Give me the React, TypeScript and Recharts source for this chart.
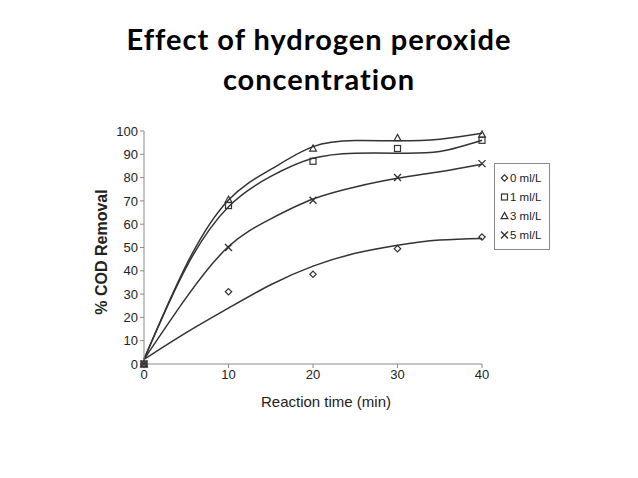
import { ComposedChart, Line, Scatter, XAxis, YAxis } from "recharts";

// measured points (min, % COD removal)
const times = [0, 10, 20, 30, 40];
const removal0 = [0, 31, 38.5, 49.5, 54.5];
const removal1 = [0, 68, 87, 92.5, 96];
const removal3 = [0, 70.5, 92.5, 97, 98.5];
const removal5 = [0, 50, 70.3, 80, 86];

// trend curves
const curveTimes = [0, 5, 10, 15, 20, 25, 30, 35, 40];
const curve0 = [2, 13.5, 24, 34, 42, 47.5, 51, 53.2, 53.9];
const curve1 = [2, 41.5, 67.5, 80.5, 88.3, 90.5, 90.5, 91.2, 96];
const curve3 = [2, 42.5, 70.4, 83.5, 93.3, 95.9, 95.8, 96.5, 99];
const curve5 = [2, 28.5, 50.4, 62.3, 70.8, 76, 79.7, 82.5, 85.7];

const yTicks = [0, 10, 20, 30, 40, 50, 60, 70, 80, 90, 100];
const xTicks = [0, 10, 20, 30, 40];

const seriesNames = ["0 ml/L", "1 ml/L", "3 ml/L", "5 ml/L"];
const markerKinds = ["diamond", "square", "triangle", "cross"];

const toRows = (xs: number[], ys: number[]) => xs.map((t, i) => ({ t, v: ys[i] }));

const pointSets = [removal0, removal1, removal3, removal5].map((ys) => toRows(times, ys));
const curveSets = [curve0, curve1, curve3, curve5].map((ys) => toRows(curveTimes, ys));

const INK = "#333";
const AXIS = "#8a8a8a";
const FONT = "'Liberation Sans', Arial, sans-serif";

function Marker({ kind, cx, cy }: { kind: string; cx: number; cy: number }) {
  const s = 3.2;
  const common = { fill: "none", stroke: INK, strokeWidth: 1.2 };
  if (kind === "diamond")
    return <polygon points={`${cx},${cy - s} ${cx + s},${cy} ${cx},${cy + s} ${cx - s},${cy}`} {...common} />;
  if (kind === "square") return <rect x={cx - 3} y={cy - 3} width={6} height={6} {...common} />;
  if (kind === "triangle")
    return <polygon points={`${cx},${cy - 3.6} ${cx + 3.4},${cy + 2.6} ${cx - 3.4},${cy + 2.6}`} {...common} />;
  return (
    <path
      d={`M${cx - 3.5},${cy - 3.5}L${cx + 3.5},${cy + 3.5}M${cx + 3.5},${cy - 3.5}L${cx - 3.5},${cy + 3.5}`}
      stroke={INK}
      strokeWidth={1.4}
    />
  );
}

function LegendBox() {
  return (
    <div
      style={{
        position: "absolute",
        left: 494,
        top: 163,
        width: 56,
        border: `1px solid ${AXIS}`,
        padding: "4px 3px 5px 5px",
        fontFamily: FONT,
        fontSize: 11.5,
        color: "#222",
        background: "#fff",
        boxSizing: "border-box",
      }}
    >
      {seriesNames.map((name, i) => (
        <div key={name} style={{ display: "flex", alignItems: "center", height: 19 }}>
          <svg width={9} height={10} style={{ marginRight: 1 }}>
            <Marker kind={markerKinds[i]} cx={4.5} cy={5} />
          </svg>
          <span>{name}</span>
        </div>
      ))}
    </div>
  );
}

export default function App() {
  return (
    <div style={{ position: "absolute", left: 0, top: 0, width: 638, height: 478, background: "#fff" }}>
      <div
        style={{
          position: "absolute",
          left: 0,
          top: 19,
          width: 638,
          textAlign: "center",
          fontFamily: "Lato, 'Open Sans', sans-serif",
          fontWeight: 700,
          fontSize: 29,
          letterSpacing: 1,
          fontVariantLigatures: "none",
          fontFeatureSettings: "'liga' 0",
          lineHeight: "40px",
          color: "#000",
        }}
      >
        Effect of hydrogen peroxide
        <br />
        concentration
      </div>
      <div style={{ position: "absolute", left: 0, top: 0 }}>
        <ComposedChart width={638} height={478} margin={{ top: 131, right: 156, bottom: 84, left: 84 }}>
          <XAxis
            dataKey="t"
            type="number"
            domain={[0, 40]}
            ticks={xTicks}
            height={30}
            stroke={AXIS}
            tickSize={4}
            tick={{ fill: "#222", fontSize: 13, fontFamily: FONT }}
            label={{
              content: () => (
                <text x={326} y={407} textAnchor="middle" fill="#222" fontSize={15} fontFamily={FONT}>
                  Reaction time (min)
                </text>
              ),
            }}
          />
          <XAxis
            xAxisId="top"
            dataKey="t"
            type="number"
            orientation="top"
            domain={[0, 40]}
            height={0}
            tick={false}
            tickLine={false}
            stroke={AXIS}
          />
          <YAxis
            type="number"
            domain={[0, 100]}
            ticks={yTicks}
            width={60}
            stroke={AXIS}
            tickSize={4}
            interval={0}
            tick={{ fill: "#222", fontSize: 13, fontFamily: FONT }}
            label={{
              content: () => (
                <text
                  x={101}
                  y={252}
                  transform="rotate(-90 101 252)"
                  textAnchor="middle"
                  dominantBaseline="central"
                  fill="#222"
                  fontSize={16}
                  fontWeight={700}
                  fontFamily={FONT}
                >
                  % COD Removal
                </text>
              ),
            }}
          />
          <YAxis
            yAxisId="right"
            orientation="right"
            domain={[0, 100]}
            width={0}
            tick={false}
            tickLine={false}
            stroke={AXIS}
          />
          {curveSets.map((rows, i) => (
            <Line
              key={`c${i}`}
              data={rows}
              dataKey="v"
              type="natural"
              stroke={INK}
              strokeWidth={1.5}
              dot={false}
              activeDot={false}
              legendType="none"
              isAnimationActive={false}
            />
          ))}
          {pointSets.map((rows, i) => (
            <Scatter
              key={`p${i}`}
              name={seriesNames[i]}
              data={rows}
              dataKey="v"
              isAnimationActive={false}
              shape={(p: any) => <Marker kind={markerKinds[i]} cx={p.cx} cy={p.cy} />}
            />
          ))}
        </ComposedChart>
      </div>
      <LegendBox />
    </div>
  );
}
